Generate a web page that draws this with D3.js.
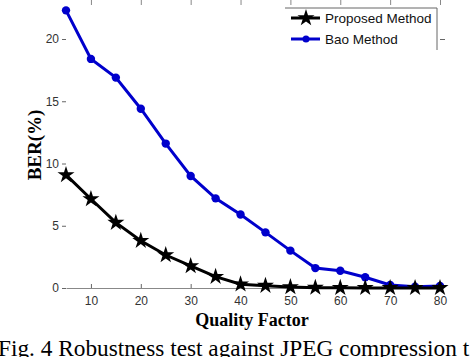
<!DOCTYPE html>
<html><head><meta charset="utf-8">
<script src="https://cdn.jsdelivr.net/npm/d3@7"></script>
<style>body{margin:0;background:#fff}svg{display:block}</style>
</head><body>
<script>
const quality = [5,10,15,20,25,30,35,40,45,50,55,60,65,70,75,80];
const proposed = [9.08,7.15,5.25,3.8,2.65,1.77,0.91,0.3,0.19,0.08,0.03,0.02,0.01,0.01,0.01,0.01];
const bao = [22.3,18.4,16.9,14.4,11.6,9.0,7.2,5.9,4.47,3.0,1.6,1.39,0.86,0.24,0.1,0.16];
const xTicks = [10,20,30,40,50,60,70,80];
const yTicks = [0,5,10,15,20];
const seriesNames = ["Proposed Method","Bao Method"];

const W=474,H=357;
const svg=d3.select("body").append("svg").attr("width",W).attr("height",H);
const x=d3.scaleLinear().domain([5,80]).range([66,440]);
const y=d3.scaleLinear().domain([0,20]).range([288,39]);

// bottom axis
const gx=svg.append("g").attr("transform","translate(0,288)")
  .call(d3.axisBottom(x).tickValues(xTicks).tickSize(-4).tickSizeOuter(0).tickPadding(8));
gx.select(".domain").attr("stroke","#888");
gx.selectAll(".tick line").attr("stroke","#666");
gx.selectAll("text").attr("font-family","Arial, Liberation Sans, sans-serif").attr("font-size",12).attr("fill","#333");

// top ticks
svg.append("g").attr("transform","translate(0,0)")
  .call(d3.axisTop(x).tickValues(xTicks).tickSize(-5).tickFormat(""))
  .call(g=>{g.select(".domain").remove();g.selectAll(".tick line").attr("stroke","#888");});

// left axis
const gy=svg.append("g").attr("transform","translate(66,0)")
  .call(d3.axisLeft(y).tickValues(yTicks).tickSize(4).tickPadding(3));
gy.select(".domain").remove();
gy.selectAll(".tick line").attr("stroke","#666");
gy.selectAll("text").attr("font-family","Arial, Liberation Sans, sans-serif").attr("font-size",12).attr("fill","#333");

// right axis tick
svg.append("g").attr("transform","translate(440,0)")
  .call(d3.axisRight(y).tickValues([20]).tickSize(5).tickFormat(""))
  .call(g=>{g.select(".domain").remove();g.selectAll(".tick line").attr("stroke","#666");});

const line=d3.line().x((d,i)=>x(quality[i])).y(d=>y(d));
const star=d3.symbol().type(d3.symbolStar).size(90);

// Bao
svg.append("path").datum(bao).attr("d",line).attr("fill","none").attr("stroke","#0000cc").attr("stroke-width",3);
svg.selectAll(".bao").data(bao).enter().append("circle")
  .attr("cx",(d,i)=>x(quality[i])).attr("cy",d=>y(d)).attr("r",4.2).attr("fill","#0000cc");

// Proposed
svg.append("path").datum(proposed).attr("d",line).attr("fill","none").attr("stroke","#000").attr("stroke-width",3);
svg.selectAll(".prop").data(proposed).enter().append("path")
  .attr("d",star).attr("transform",(d,i)=>`translate(${x(quality[i])},${y(d)})`).attr("fill","#000");

// legend
const lg=svg.append("g");
lg.append("rect").attr("x",285).attr("y",8).attr("width",152).attr("height",42).attr("fill","#fff");
lg.append("path").attr("d","M285,8H437V50").attr("fill","none").attr("stroke","#666").attr("stroke-width",1);
lg.append("line").attr("x1",291).attr("x2",320).attr("y1",18).attr("y2",18).attr("stroke","#000").attr("stroke-width",3);
lg.append("path").attr("d",star).attr("transform","translate(306,18)").attr("fill","#000");
lg.append("line").attr("x1",291).attr("x2",320).attr("y1",39).attr("y2",39).attr("stroke","#0000cc").attr("stroke-width",3);
lg.append("circle").attr("cx",306).attr("cy",39).attr("r",3.5).attr("fill","#0000cc");
lg.selectAll("text").data(seriesNames).enter().append("text")
  .attr("x",325).attr("y",(d,i)=>23+i*21).text(d=>d)
  .attr("font-family","Arial, Liberation Sans, sans-serif").attr("font-size",13.5).attr("fill","#111");

// axis titles
svg.append("text").attr("transform","translate(41,145) rotate(-90)").attr("text-anchor","middle")
  .attr("font-family","Liberation Serif, Times New Roman, serif").attr("font-weight","bold").attr("font-size",19).text("BER(%)");
svg.append("text").attr("x",252).attr("y",326).attr("text-anchor","middle")
  .attr("font-family","Liberation Serif, Times New Roman, serif").attr("font-weight","bold").attr("font-size",18).text("Quality Factor");
svg.append("text").attr("x",-2).attr("y",356)
  .attr("font-family","Liberation Serif, Times New Roman, serif").attr("font-size",23.3).text("Fig. 4 Robustness test against JPEG compression t");
</script>
</body></html>
